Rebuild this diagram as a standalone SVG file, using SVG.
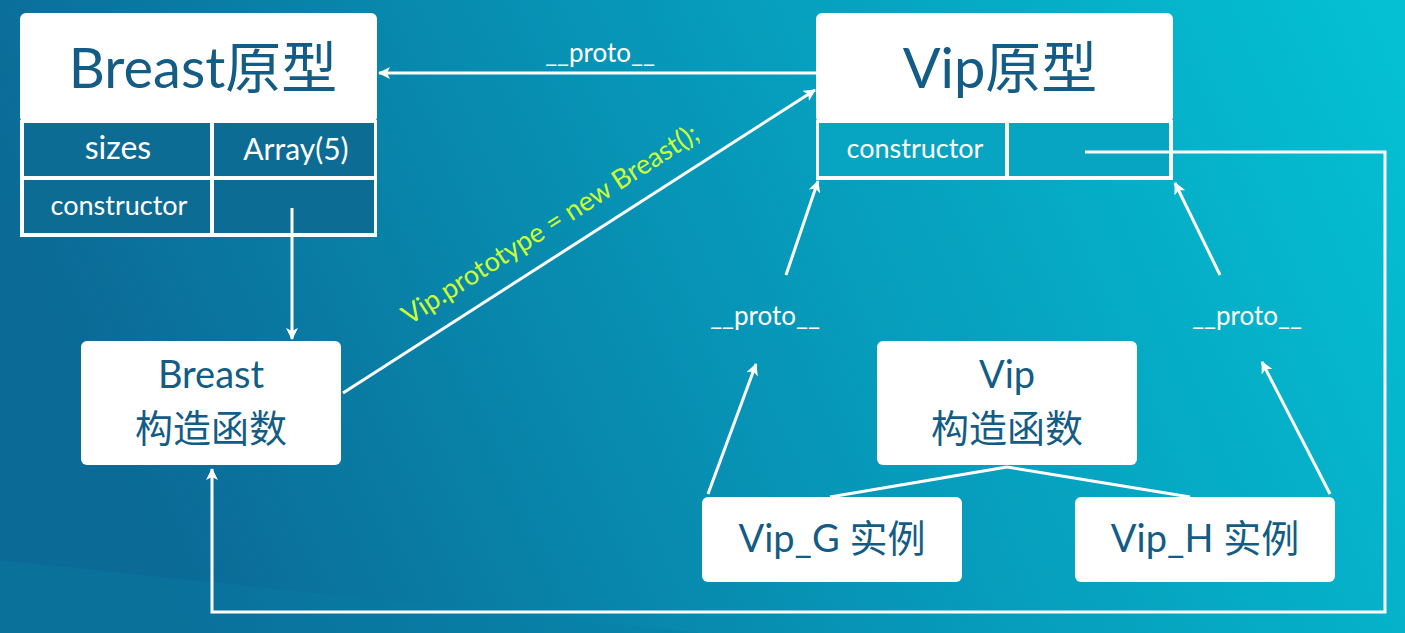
<svg xmlns="http://www.w3.org/2000/svg" width="1405" height="633" viewBox="0 0 1405 633">
<defs>
<linearGradient id="bg" x1="0" y1="0.3" x2="1" y2="0.1">
<stop offset="0" stop-color="#0b6a96"/>
<stop offset="0.45" stop-color="#0794b6"/>
<stop offset="1" stop-color="#04c0d2"/>
</linearGradient>
<marker id="ah" viewBox="0 0 12 12" refX="11" refY="6" markerWidth="12" markerHeight="12" markerUnits="userSpaceOnUse" orient="auto">
<path d="M0,0 L12,6 L0,12 L3,6 Z" fill="#fff"/>
</marker>
<style>
.t{font-family:"Lato","Noto Sans","Noto Sans CJK SC",sans-serif}
.dk{fill:#135c85}
.wt{fill:#fff}
.ln{stroke:#fff;stroke-width:3;fill:none}
.box{fill:#fff}
</style>
</defs>
<rect width="1405" height="633" fill="url(#bg)"/>
<polygon points="0,560 700,633 0,633" fill="#0a7fa5" opacity="0.35"/>
<g id="breastProto">
<rect x="20" y="13" width="357" height="110" rx="6" class="box"/>
<rect x="20" y="120" width="357" height="117" fill="#fff"/>
<rect x="24" y="123" width="186" height="53" fill="#0d6c94"/>
<rect x="214" y="123" width="160" height="53" fill="#0d6c94"/>
<rect x="24" y="180" width="186" height="53" fill="#0d6c94"/>
<rect x="214" y="180" width="160" height="53" fill="#0d6c94"/>
<text x="203" y="88" font-size="56" text-anchor="middle" class="t dk">Breast原型</text>
<text x="118" y="159" font-size="32" text-anchor="middle" class="t wt">sizes</text>
<text x="296" y="160" font-size="30" text-anchor="middle" class="t wt">Array(5)</text>
<text x="119" y="215" font-size="27" text-anchor="middle" class="t wt">constructor</text>
</g>
<g id="vipProto">
<rect x="816" y="13" width="357" height="110" rx="6" class="box"/>
<rect x="816" y="120" width="357" height="60" fill="#fff"/>
<rect x="819" y="123" width="186" height="53" fill="#08a5c3"/>
<rect x="1009" y="123" width="160" height="53" fill="#08a5c3"/>
<text x="1000" y="88" font-size="56" text-anchor="middle" class="t dk">Vip原型</text>
<text x="915" y="158" font-size="27" text-anchor="middle" class="t wt">constructor</text>
</g>
<g id="breastCtor">
<rect x="81" y="341" width="260" height="124" rx="6" class="box"/>
<text x="211" y="388" font-size="38" text-anchor="middle" class="t dk">Breast</text>
<text x="211" y="442" font-size="38" text-anchor="middle" class="t dk">构造函数</text>
</g>
<g id="vipCtor">
<rect x="877" y="341" width="260" height="124" rx="6" class="box"/>
<text x="1007" y="388" font-size="38" text-anchor="middle" class="t dk">Vip</text>
<text x="1007" y="442" font-size="38" text-anchor="middle" class="t dk">构造函数</text>
</g>
<g id="vipG">
<rect x="702" y="497" width="260" height="85" rx="6" class="box"/>
<text x="832" y="552" font-size="38" text-anchor="middle" class="t dk">Vip_G 实例</text>
</g>
<g id="vipH">
<rect x="1075" y="497" width="260" height="85" rx="6" class="box"/>
<text x="1205" y="552" font-size="38" text-anchor="middle" class="t dk">Vip_H 实例</text>
</g>
<g id="connectors">
<line x1="816" y1="73" x2="379" y2="73" class="ln" marker-end="url(#ah)"/>
<text x="600" y="62" font-size="26" text-anchor="middle" class="t wt">__proto__</text>
<line x1="292" y1="208" x2="292" y2="339" class="ln" marker-end="url(#ah)"/>
<line x1="343" y1="393" x2="815" y2="90" class="ln" marker-end="url(#ah)"/>
<text transform="translate(555,232) rotate(-32.7)" font-size="27" text-anchor="middle" class="t" fill="#ccff33">Vip.prototype = new Breast();</text>
<line x1="1007" y1="467" x2="830" y2="497" class="ln"/>
<line x1="1007" y1="467" x2="1190" y2="497" class="ln"/>
<line x1="708" y1="494" x2="756" y2="364" class="ln" marker-end="url(#ah)"/>
<text x="765" y="325" font-size="26" text-anchor="middle" class="t wt">__proto__</text>
<line x1="786" y1="275" x2="818" y2="181" class="ln" marker-end="url(#ah)"/>
<line x1="1330" y1="494" x2="1262" y2="362" class="ln" marker-end="url(#ah)"/>
<text x="1247" y="325" font-size="26" text-anchor="middle" class="t wt">__proto__</text>
<line x1="1220" y1="275" x2="1175" y2="183" class="ln" marker-end="url(#ah)"/>
<polyline points="1085,152 1385,152 1385,612 212,612 212,469" class="ln" marker-end="url(#ah)"/>
</g>
</svg>
